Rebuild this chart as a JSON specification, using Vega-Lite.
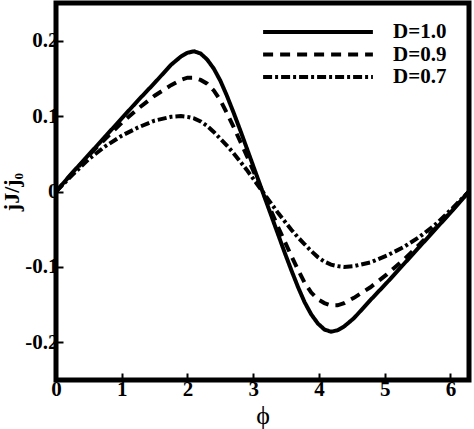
{
  "$schema": "https://vega.github.io/schema/vega-lite/v6.json",
  "width": 413,
  "height": 377,
  "autosize": "none",
  "padding": {"left": 56, "top": 3, "right": 5, "bottom": 49},
  "background": "white",
  "config": {
    "view": {"stroke": "black", "strokeWidth": 5},
    "font": "Liberation Serif"
  },
  "data": {
    "values": [
      {"D": "D=1.0", "phi": 0, "j": 0},
      {"D": "D=1.0", "phi": 0.25, "j": 0.025},
      {"D": "D=1.0", "phi": 0.5, "j": 0.049},
      {"D": "D=1.0", "phi": 0.75, "j": 0.073},
      {"D": "D=1.0", "phi": 1.0, "j": 0.097},
      {"D": "D=1.0", "phi": 1.25, "j": 0.121},
      {"D": "D=1.0", "phi": 1.5, "j": 0.144},
      {"D": "D=1.0", "phi": 1.75, "j": 0.168},
      {"D": "D=1.0", "phi": 1.9, "j": 0.179},
      {"D": "D=1.0", "phi": 2.0, "j": 0.184},
      {"D": "D=1.0", "phi": 2.1, "j": 0.186},
      {"D": "D=1.0", "phi": 2.2, "j": 0.183},
      {"D": "D=1.0", "phi": 2.3, "j": 0.175},
      {"D": "D=1.0", "phi": 2.4, "j": 0.163},
      {"D": "D=1.0", "phi": 2.5, "j": 0.147},
      {"D": "D=1.0", "phi": 2.6, "j": 0.127},
      {"D": "D=1.0", "phi": 2.7, "j": 0.105},
      {"D": "D=1.0", "phi": 2.8, "j": 0.082},
      {"D": "D=1.0", "phi": 2.9, "j": 0.058},
      {"D": "D=1.0", "phi": 3.0, "j": 0.034},
      {"D": "D=1.0", "phi": 3.1, "j": 0.010},
      {"D": "D=1.0", "phi": 3.1416, "j": 0},
      {"D": "D=1.0", "phi": 3.1832, "j": -0.010},
      {"D": "D=1.0", "phi": 3.2832, "j": -0.034},
      {"D": "D=1.0", "phi": 3.3832, "j": -0.058},
      {"D": "D=1.0", "phi": 3.4832, "j": -0.082},
      {"D": "D=1.0", "phi": 3.5832, "j": -0.105},
      {"D": "D=1.0", "phi": 3.6832, "j": -0.127},
      {"D": "D=1.0", "phi": 3.7832, "j": -0.147},
      {"D": "D=1.0", "phi": 3.8832, "j": -0.163},
      {"D": "D=1.0", "phi": 3.9832, "j": -0.175},
      {"D": "D=1.0", "phi": 4.0832, "j": -0.183},
      {"D": "D=1.0", "phi": 4.1832, "j": -0.186},
      {"D": "D=1.0", "phi": 4.2832, "j": -0.184},
      {"D": "D=1.0", "phi": 4.3832, "j": -0.179},
      {"D": "D=1.0", "phi": 4.5332, "j": -0.168},
      {"D": "D=1.0", "phi": 4.7832, "j": -0.144},
      {"D": "D=1.0", "phi": 5.0332, "j": -0.121},
      {"D": "D=1.0", "phi": 5.2832, "j": -0.097},
      {"D": "D=1.0", "phi": 5.5332, "j": -0.073},
      {"D": "D=1.0", "phi": 5.7832, "j": -0.049},
      {"D": "D=1.0", "phi": 6.0332, "j": -0.025},
      {"D": "D=1.0", "phi": 6.2832, "j": 0},

      {"D": "D=0.9", "phi": 0, "j": 0},
      {"D": "D=0.9", "phi": 0.25, "j": 0.024},
      {"D": "D=0.9", "phi": 0.5, "j": 0.048},
      {"D": "D=0.9", "phi": 0.75, "j": 0.070},
      {"D": "D=0.9", "phi": 1.0, "j": 0.091},
      {"D": "D=0.9", "phi": 1.25, "j": 0.110},
      {"D": "D=0.9", "phi": 1.5, "j": 0.127},
      {"D": "D=0.9", "phi": 1.75, "j": 0.141},
      {"D": "D=0.9", "phi": 1.9, "j": 0.148},
      {"D": "D=0.9", "phi": 2.0, "j": 0.151},
      {"D": "D=0.9", "phi": 2.1, "j": 0.151},
      {"D": "D=0.9", "phi": 2.2, "j": 0.148},
      {"D": "D=0.9", "phi": 2.3, "j": 0.143},
      {"D": "D=0.9", "phi": 2.4, "j": 0.134},
      {"D": "D=0.9", "phi": 2.5, "j": 0.121},
      {"D": "D=0.9", "phi": 2.6, "j": 0.104},
      {"D": "D=0.9", "phi": 2.7, "j": 0.086},
      {"D": "D=0.9", "phi": 2.8, "j": 0.067},
      {"D": "D=0.9", "phi": 2.9, "j": 0.048},
      {"D": "D=0.9", "phi": 3.0, "j": 0.028},
      {"D": "D=0.9", "phi": 3.1, "j": 0.008},
      {"D": "D=0.9", "phi": 3.1416, "j": 0},
      {"D": "D=0.9", "phi": 3.1832, "j": -0.008},
      {"D": "D=0.9", "phi": 3.2832, "j": -0.028},
      {"D": "D=0.9", "phi": 3.3832, "j": -0.048},
      {"D": "D=0.9", "phi": 3.4832, "j": -0.067},
      {"D": "D=0.9", "phi": 3.5832, "j": -0.086},
      {"D": "D=0.9", "phi": 3.6832, "j": -0.104},
      {"D": "D=0.9", "phi": 3.7832, "j": -0.121},
      {"D": "D=0.9", "phi": 3.8832, "j": -0.134},
      {"D": "D=0.9", "phi": 3.9832, "j": -0.143},
      {"D": "D=0.9", "phi": 4.0832, "j": -0.148},
      {"D": "D=0.9", "phi": 4.1832, "j": -0.151},
      {"D": "D=0.9", "phi": 4.2832, "j": -0.151},
      {"D": "D=0.9", "phi": 4.3832, "j": -0.148},
      {"D": "D=0.9", "phi": 4.5332, "j": -0.141},
      {"D": "D=0.9", "phi": 4.7832, "j": -0.127},
      {"D": "D=0.9", "phi": 5.0332, "j": -0.110},
      {"D": "D=0.9", "phi": 5.2832, "j": -0.091},
      {"D": "D=0.9", "phi": 5.5332, "j": -0.070},
      {"D": "D=0.9", "phi": 5.7832, "j": -0.048},
      {"D": "D=0.9", "phi": 6.0332, "j": -0.024},
      {"D": "D=0.9", "phi": 6.2832, "j": 0},

      {"D": "D=0.7", "phi": 0, "j": 0},
      {"D": "D=0.7", "phi": 0.25, "j": 0.022},
      {"D": "D=0.7", "phi": 0.5, "j": 0.043},
      {"D": "D=0.7", "phi": 0.75, "j": 0.060},
      {"D": "D=0.7", "phi": 1.0, "j": 0.074},
      {"D": "D=0.7", "phi": 1.25, "j": 0.085},
      {"D": "D=0.7", "phi": 1.5, "j": 0.094},
      {"D": "D=0.7", "phi": 1.75, "j": 0.099},
      {"D": "D=0.7", "phi": 1.9, "j": 0.100},
      {"D": "D=0.7", "phi": 2.0, "j": 0.099},
      {"D": "D=0.7", "phi": 2.1, "j": 0.097},
      {"D": "D=0.7", "phi": 2.2, "j": 0.093},
      {"D": "D=0.7", "phi": 2.3, "j": 0.087},
      {"D": "D=0.7", "phi": 2.4, "j": 0.079},
      {"D": "D=0.7", "phi": 2.5, "j": 0.070},
      {"D": "D=0.7", "phi": 2.6, "j": 0.061},
      {"D": "D=0.7", "phi": 2.7, "j": 0.051},
      {"D": "D=0.7", "phi": 2.8, "j": 0.040},
      {"D": "D=0.7", "phi": 2.9, "j": 0.029},
      {"D": "D=0.7", "phi": 3.0, "j": 0.017},
      {"D": "D=0.7", "phi": 3.1, "j": 0.005},
      {"D": "D=0.7", "phi": 3.1416, "j": 0},
      {"D": "D=0.7", "phi": 3.1832, "j": -0.005},
      {"D": "D=0.7", "phi": 3.2832, "j": -0.017},
      {"D": "D=0.7", "phi": 3.3832, "j": -0.029},
      {"D": "D=0.7", "phi": 3.4832, "j": -0.040},
      {"D": "D=0.7", "phi": 3.5832, "j": -0.051},
      {"D": "D=0.7", "phi": 3.6832, "j": -0.061},
      {"D": "D=0.7", "phi": 3.7832, "j": -0.070},
      {"D": "D=0.7", "phi": 3.8832, "j": -0.079},
      {"D": "D=0.7", "phi": 3.9832, "j": -0.087},
      {"D": "D=0.7", "phi": 4.0832, "j": -0.093},
      {"D": "D=0.7", "phi": 4.1832, "j": -0.097},
      {"D": "D=0.7", "phi": 4.2832, "j": -0.099},
      {"D": "D=0.7", "phi": 4.3832, "j": -0.100},
      {"D": "D=0.7", "phi": 4.5332, "j": -0.099},
      {"D": "D=0.7", "phi": 4.7832, "j": -0.094},
      {"D": "D=0.7", "phi": 5.0332, "j": -0.085},
      {"D": "D=0.7", "phi": 5.2832, "j": -0.074},
      {"D": "D=0.7", "phi": 5.5332, "j": -0.060},
      {"D": "D=0.7", "phi": 5.7832, "j": -0.043},
      {"D": "D=0.7", "phi": 6.0332, "j": -0.022},
      {"D": "D=0.7", "phi": 6.2832, "j": 0}
    ]
  },
  "mark": {"type": "line", "strokeWidth": 4, "color": "black", "clip": true},
  "encoding": {
    "x": {
      "field": "phi",
      "type": "quantitative",
      "scale": {"domain": [0, 6.2832], "nice": false, "zero": false},
      "axis": {
        "values": [0, 1, 2, 3, 4, 5, 6],
        "format": "d",
        "title": "ϕ",
        "titleFont": "Liberation Serif",
        "titleFontSize": 26,
        "titleFontWeight": "normal",
        "titleColor": "black",
        "titlePadding": 3,
        "labelFont": "Liberation Serif",
        "labelFontSize": 21,
        "labelFontWeight": "bold",
        "labelColor": "black",
        "labelPadding": 5,
        "labelFlush": false,
        "domain": false,
        "grid": false,
        "tickSize": -7,
        "tickWidth": 2,
        "tickColor": "black"
      }
    },
    "y": {
      "field": "j",
      "type": "quantitative",
      "scale": {"domain": [-0.25, 0.25], "nice": false},
      "axis": {
        "values": [-0.2, -0.1, 0, 0.1, 0.2],
        "labelExpr": "datum.value == 0 ? '0' : (datum.value < 0 ? '-' : '') + format(abs(datum.value), '.1f')",
        "title": "jJ/j₀",
        "titleFont": "Liberation Serif",
        "titleFontSize": 22,
        "titleFontWeight": "bold",
        "titleColor": "black",
        "titleX": -38,
        "titleBaseline": "alphabetic",
        "labelFont": "Liberation Serif",
        "labelFontSize": 21,
        "labelFontWeight": "bold",
        "labelColor": "black",
        "labelPadding": 5,
        "labelFlush": false,
        "domain": false,
        "grid": false,
        "tickSize": -7,
        "tickWidth": 2,
        "tickColor": "black"
      }
    },
    "strokeDash": {
      "field": "D",
      "type": "nominal",
      "scale": {"domain": ["D=1.0", "D=0.9", "D=0.7"], "range": [[1, 0], [10, 7], [9, 3, 3, 3]]},
      "legend": {
        "title": null,
        "orient": "none",
        "legendX": 251,
        "legendY": 18,
        "padding": 0,
        "symbolType": "M-6.1,0H6.1",
        "symbolSize": 324,
        "symbolStrokeWidth": 4,
        "symbolStrokeColor": "black",
        "symbolFillColor": "transparent",
        "labelFont": "Liberation Serif",
        "labelFontSize": 21,
        "labelFontWeight": "bold",
        "labelColor": "black",
        "labelOffset": 64,
        "rowPadding": 1.5
      }
    }
  }
}
